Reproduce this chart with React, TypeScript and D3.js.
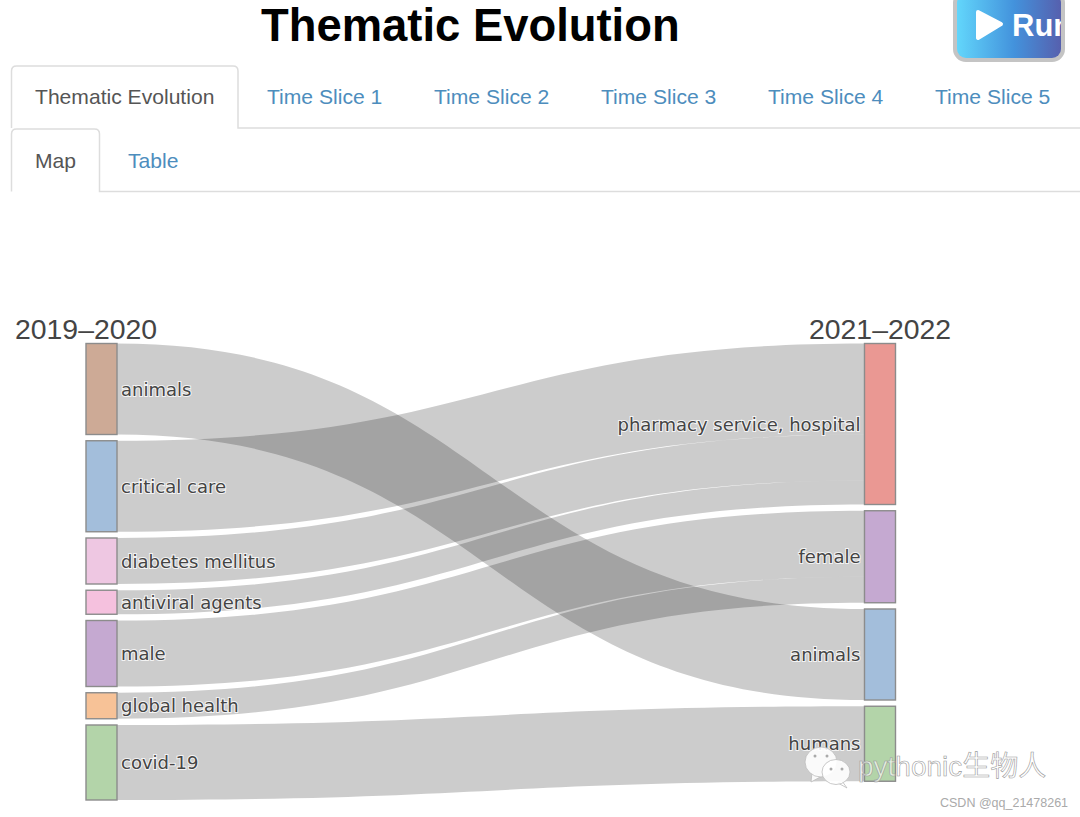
import * as d3 from "d3";

const sourceNames = ["animals", "critical care", "diabetes mellitus", "antiviral agents", "male", "global health", "covid-19"];
const targetNames = ["pharmacy service, hospital", "female", "animals", "humans"];
// [source index, target index, value]
const flowSource = [0, 1, 2, 3, 4, 5, 6];
const flowTarget = [2, 0, 0, 0, 1, 1, 3];
const flowValue = [91, 91, 46, 24, 66, 26, 75];
const periodLabels = ["2019–2020", "2021–2022"];
const subTabs = ["Table"];
const sliceTabs = ["Time Slice 1", "Time Slice 2", "Time Slice 3", "Time Slice 4", "Time Slice 5"];

const sourceColors = ["#cdaa96", "#a3bedb", "#eec7e2", "#f5c1de", "#c5a9d1", "#f7c297", "#b3d4a9"];
const targetColors = ["#ea9893", "#c5a9d1", "#a3bedb", "#b3d4a9"];
const sliceTabX = [267, 434, 601, 768, 935];

const NODE_WIDTH = 31;
const NODE_GAP = 6.25;
const SANS = "'Liberation Sans', Arial, sans-serif";
const LABEL_FONT = "'DejaVu Sans', Verdana, sans-serif";

const total = d3.sum(flowValue);
const xScale = d3.scaleLinear().domain([0, 1]).range([86, 864.5]);
const yScale = d3.scaleLinear().domain([0, total]).range([343.5, 343.5 + total]);

// stack nodes down a column, gaps are in value units
function stackNodes(values: number[]) {
  let cursor = 0;
  return values.map((v) => {
    const node = { start: cursor, end: cursor + v, used: 0 };
    cursor += v + NODE_GAP;
    return node;
  });
}

const sourceTotals = sourceNames.map((_, i) => d3.sum(flowValue.filter((_v, k) => flowSource[k] === i)));
const targetTotals = targetNames.map((_, i) => d3.sum(flowValue.filter((_v, k) => flowTarget[k] === i)));
const sourceNodes = stackNodes(sourceTotals);
const targetNodes = stackNodes(targetTotals);

const ribbon = d3
  .area<{ x: number; y0: number; y1: number }>()
  .x((d) => d.x)
  .y0((d) => d.y0)
  .y1((d) => d.y1)
  .curve(d3.curveBumpX);

const ribbons = flowValue.map((v, k) => {
  const s = sourceNodes[flowSource[k]];
  const t = targetNodes[flowTarget[k]];
  const sy = s.start + s.used;
  const ty = t.start + t.used;
  s.used += v;
  t.used += v;
  return ribbon([
    { x: xScale(0) + NODE_WIDTH, y0: yScale(sy), y1: yScale(sy + v) },
    { x: xScale(1), y0: yScale(ty), y1: yScale(ty + v) },
  ]) as string;
});

const labelStyle = {
  fontFamily: LABEL_FONT,
  fontSize: 18,
  fill: "#444",
  stroke: "rgba(255,255,255,0.8)",
  strokeWidth: 2,
  paintOrder: "stroke",
} as const;

export default function App() {
  return (
    <svg
      width={1080}
      height={817}
      style={{ position: "absolute", left: 0, top: 0, display: "block", background: "#fff" }}
    >
      <defs>
        <linearGradient id="runFill" x1="0" x2="1" y1="0" y2="0">
          <stop offset="0" stopColor="#62d6fb" />
          <stop offset="0.55" stopColor="#4392dc" />
          <stop offset="1" stopColor="#5660ae" />
        </linearGradient>
        <clipPath id="runClip">
          <rect x={957} y={-6} width={104} height={64} rx={9} />
        </clipPath>
      </defs>

      <text x={261} y={41} fontFamily={SANS} fontWeight="bold" fontSize={45.4} fill="#000">
        Thematic Evolution
      </text>

      {/* run button, cut off by the page edge in the screenshot */}
      <rect x={955} y={-8} width={108} height={68} rx={11} fill="#c4c4c4" stroke="#c4c4c4" strokeWidth={4} />
      <g clipPath="url(#runClip)">
        <rect x={957} y={-6} width={104} height={64} fill="url(#runFill)" />
        <path d="M978 12 L1001 24 L978 38 Z" fill="#fff" stroke="#fff" strokeWidth={4} strokeLinejoin="round" />
        <text x={1012} y={36} fontFamily={SANS} fontWeight="bold" fontSize={31} fill="#fff">
          Run
        </text>
      </g>

      {/* tab bars */}
      <path
        d="M11.5 128 V71 Q11.5 66 16.5 66 H233 Q238 66 238 71 V128 H1080"
        fill="none"
        stroke="#ddd"
        strokeWidth={1.5}
      />
      <path
        d="M11.5 191.5 V134 Q11.5 129 16.5 129 H94.5 Q99.5 129 99.5 134 V191.5 H1080"
        fill="none"
        stroke="#ddd"
        strokeWidth={1.5}
      />
      <text x={35} y={104} fontFamily={SANS} fontSize={21.1} fill="#555">
        Thematic Evolution
      </text>
      {sliceTabs.map((t, i) => (
        <text key={t} x={sliceTabX[i]} y={104} fontFamily={SANS} fontSize={21.1} fill="#4d8dbd">
          {t}
        </text>
      ))}
      <text x={35} y={168} fontFamily={SANS} fontSize={21.1} fill="#555">
        Map
      </text>
      {subTabs.map((t) => (
        <text key={t} x={128} y={168} fontFamily={SANS} fontSize={21.1} fill="#4d8dbd">
          {t}
        </text>
      ))}

      {/* sankey */}
      {ribbons.map((d, i) => (
        <path key={i} d={d} fill="#000" fillOpacity={0.2} />
      ))}
      {sourceNodes.map((n, i) => (
        <rect
          key={sourceNames[i]}
          x={xScale(0)}
          y={yScale(n.start)}
          width={NODE_WIDTH}
          height={yScale(n.end) - yScale(n.start)}
          fill={sourceColors[i]}
          stroke="#8c8c8c"
          strokeWidth={1.4}
        />
      ))}
      {targetNodes.map((n, i) => (
        <rect
          key={targetNames[i]}
          x={xScale(1)}
          y={yScale(n.start)}
          width={NODE_WIDTH}
          height={yScale(n.end) - yScale(n.start)}
          fill={targetColors[i]}
          stroke="#8c8c8c"
          strokeWidth={1.4}
        />
      ))}
      {sourceNodes.map((n, i) => (
        <text
          key={sourceNames[i]}
          x={xScale(0) + NODE_WIDTH + 4}
          y={(yScale(n.start) + yScale(n.end)) / 2 + 0.4}
          dy="0.35em"
          style={labelStyle}
        >
          {sourceNames[i]}
        </text>
      ))}
      {targetNodes.map((n, i) => (
        <text
          key={targetNames[i]}
          x={xScale(1) - 4}
          y={(yScale(n.start) + yScale(n.end)) / 2 + 0.4}
          dy="0.35em"
          textAnchor="end"
          style={labelStyle}
        >
          {targetNames[i]}
        </text>
      ))}
      <text x={15} y={339} fontFamily={SANS} fontSize={28.4} fill="#444">
        {periodLabels[0]}
      </text>
      <text x={809} y={339} fontFamily={SANS} fontSize={28.4} fill="#444">
        {periodLabels[1]}
      </text>

      {/* watermark */}
      <g fill="#fff" fillOpacity={0.9} stroke="#bbb" strokeWidth={0.8}>
        <path d="M812 773 L811 782 L822 776 Z" />
        <ellipse cx={821} cy={762} rx={16} ry={15} />
        <path d="M842 781 L847 788 L838 783 Z" />
        <ellipse cx={836} cy={772} rx={14} ry={12.5} />
      </g>
      <g fill="#aaa">
        <circle cx={815} cy={756} r={1.5} />
        <circle cx={827} cy={756} r={1.5} />
        <circle cx={831} cy={769} r={1.5} />
        <circle cx={842} cy={769} r={1.5} />
      </g>
      <text
        x={858}
        y={776}
        fontFamily="'Liberation Sans', 'Noto Sans CJK SC', sans-serif"
        fontSize={28}
        fill="#fff"
        fillOpacity={0.65}
        stroke="#999"
        strokeWidth={0.6}
      >
        pythonic生物人
      </text>
      <text x={940} y={807} fontFamily={SANS} fontSize={12.5} fill="#aaa">
        CSDN @qq_21478261
      </text>
    </svg>
  );
}
